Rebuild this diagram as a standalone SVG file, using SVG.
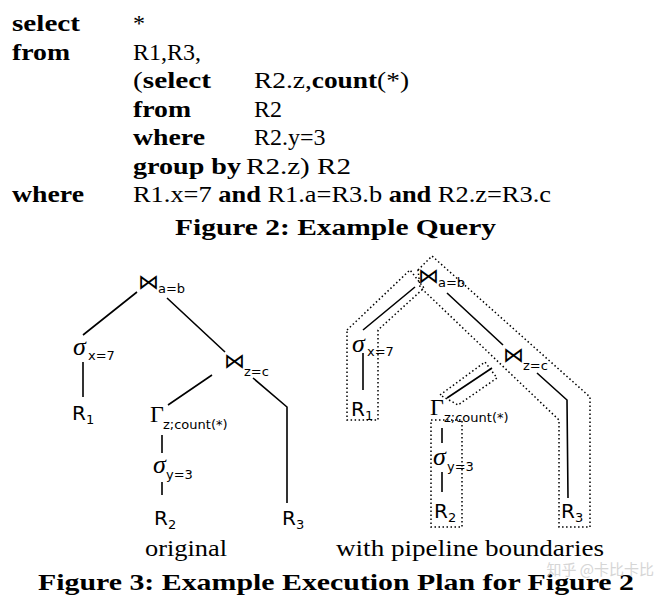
<svg xmlns="http://www.w3.org/2000/svg" width="670" height="598" viewBox="0 0 670 598">
<style>
.q{font-family:"Liberation Serif",serif;font-size:24px;fill:#000}
.b{font-weight:bold}
.s{font-family:"DejaVu Sans",sans-serif;font-size:20px;fill:#000}
.bt{font-family:"DejaVu Sans",sans-serif;font-size:21px;fill:#000}
.sub{font-family:"DejaVu Sans",sans-serif;font-size:13px;fill:#000}
.g{font-family:"Liberation Serif",serif;font-size:26px;font-style:italic;fill:#000}
.e{stroke:#000;stroke-width:1.6;fill:none}
.d{stroke:#000;stroke-width:1.5;fill:none;stroke-dasharray:1.5 2.5}
</style>
<rect width="670" height="598" fill="#fff"/>
<g id="query">
<text class="q b" x="12" y="31" textLength="68" lengthAdjust="spacingAndGlyphs">select</text><text class="q" x="133" y="31">*</text>
<text class="q b" x="12" y="60" textLength="58" lengthAdjust="spacingAndGlyphs">from</text><text class="q" x="133" y="60">R1,R3,</text>
<text class="q" x="133" y="88" textLength="78" lengthAdjust="spacingAndGlyphs">(<tspan class="b">select</tspan></text><text class="q" x="254" y="88" textLength="155" lengthAdjust="spacingAndGlyphs">R2.z,<tspan class="b">count</tspan>(*)</text>
<text class="q b" x="133" y="117" textLength="58" lengthAdjust="spacingAndGlyphs">from</text><text class="q" x="254" y="117">R2</text>
<text class="q b" x="133" y="145" textLength="72" lengthAdjust="spacingAndGlyphs">where</text><text class="q" x="254" y="145">R2.y=3</text>
<text class="q b" x="133" y="174" textLength="108" lengthAdjust="spacingAndGlyphs">group by</text><text class="q" x="246" y="174" textLength="105" lengthAdjust="spacingAndGlyphs">R2.z) R2</text>
<text class="q b" x="12" y="202" textLength="72" lengthAdjust="spacingAndGlyphs">where</text><text class="q" x="133" y="202" textLength="418" lengthAdjust="spacingAndGlyphs">R1.x=7 <tspan class="b">and</tspan> R1.a=R3.b <tspan class="b">and</tspan> R2.z=R3.c</text>
<text class="q b" x="175" y="235" textLength="321" lengthAdjust="spacingAndGlyphs">Figure 2: Example Query</text>
</g>
<g id="connectors">
<path class="e" d="M137,292 L83,335 M83,362 L83,397 M167,298 L225,352 M212,375 L168,405 M253,378 L287,407 L287,503 M162,435 L162,453 M162,482 L162,495"/>
<path class="e" d="M415,287 L363,330 M363,353 L363,390 M447,293 L503,345 M492,368 L447,398 M537,373 L567,400 L568,498 M442,428 L442,443 M442,472 L442,492"/>
</g>
<g id="boundaries">
<polygon class="d" points="347,330 410,270 424,288 378,330 378,420 347,420"/>
<polygon class="d" points="418,270 432,256 590,397 590,527 559,527 559,420 420,287"/>
<polygon class="d" points="440,395 485,362 497,378 458,405"/>
<polygon class="d" points="431,420 462,420 462,527 431,527"/>
</g>
<g id="n-join1"><text class="bt" x="138" y="289">⋈</text><text class="sub" x="158" y="293">a=b</text></g>
<g id="n-sel1"><text class="g" x="73" y="355">σ</text><text class="sub" x="88" y="360">x=7</text></g>
<g id="n-r1"><text class="s" x="72" y="420">R<tspan class="sub" dy="4">1</tspan></text></g>
<g id="n-join2"><text class="bt" x="224" y="368">⋈</text><text class="sub" x="244" y="376">z=c</text></g>
<g id="n-gamma"><text class="q" x="150" y="422">Γ</text><text class="sub" x="163" y="429">z;count(*)</text></g>
<g id="n-sel2"><text class="g" x="153" y="473">σ</text><text class="sub" x="166" y="479">y=3</text></g>
<g id="n-r2"><text class="s" x="154" y="525">R<tspan class="sub" dy="4">2</tspan></text></g>
<g id="n-r3"><text class="s" x="282" y="525">R<tspan class="sub" dy="4">3</tspan></text></g>
<g id="p-join1"><text class="bt" x="418" y="283">⋈</text><text class="sub" x="438" y="287">a=b</text></g>
<g id="p-sel1"><text class="g" x="352" y="352">σ</text><text class="sub" x="367" y="356">x=7</text></g>
<g id="p-r1"><text class="s" x="351" y="416">R<tspan class="sub" dy="4">1</tspan></text></g>
<g id="p-join2"><text class="bt" x="503" y="362">⋈</text><text class="sub" x="523" y="370">z=c</text></g>
<g id="p-gamma"><text class="q" x="430" y="415">Γ</text><text class="sub" x="444" y="422">z;count(*)</text></g>
<g id="p-sel2"><text class="g" x="433" y="465">σ</text><text class="sub" x="447" y="471">y=3</text></g>
<g id="p-r2"><text class="s" x="434" y="518">R<tspan class="sub" dy="4">2</tspan></text></g>
<g id="p-r3"><text class="s" x="561" y="518">R<tspan class="sub" dy="4">3</tspan></text></g>
<g id="captions">
<text class="q" x="145" y="556" textLength="82" lengthAdjust="spacingAndGlyphs">original</text>
<text class="q" x="336" y="556" textLength="268" lengthAdjust="spacingAndGlyphs">with pipeline boundaries</text>
<text class="q b" x="38" y="590" textLength="596" lengthAdjust="spacingAndGlyphs">Figure 3: Example Execution Plan for Figure 2</text>
<text x="654" y="575" text-anchor="end" font-family="'Noto Sans CJK SC',sans-serif" font-size="15" fill="#ccc" opacity="0.8">知乎 @卡比卡比</text>
</g>
</svg>
